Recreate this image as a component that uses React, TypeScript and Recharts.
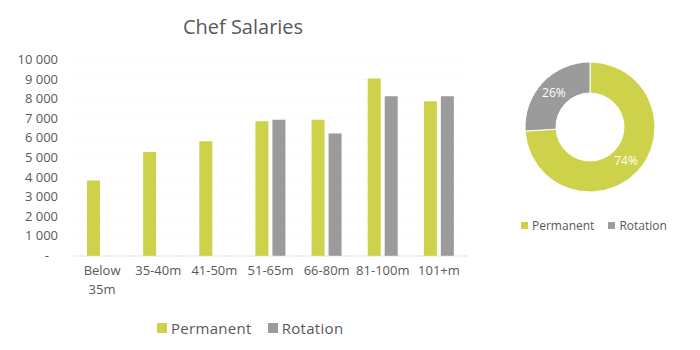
import React from 'react';
import { BarChart, Bar, XAxis, YAxis, CartesianGrid, PieChart, Pie, Cell } from 'recharts';

const categories = ['Below 35m', '35-40m', '41-50m', '51-65m', '66-80m', '81-100m', '101+m'];
const permanent = [3850, 5300, 5850, 6880, 6950, 9050, 7900];
const rotation: (number | null)[] = [null, null, null, 6950, 6250, 8150, 8150];
const yTicks = [0, 1000, 2000, 3000, 4000, 5000, 6000, 7000, 8000, 9000, 10000];

const shareNames = ['Permanent', 'Rotation'];
const shareValues = [74, 26];

const GREEN = '#CDD24A';
const GRAY = '#9B9B9B';
const TEXT = '#595959';
const FONT = '"Open Sans", "Noto Sans", sans-serif';

const barData = categories.map((name, i) => ({ name, permanent: permanent[i], rotation: rotation[i] }));
const pieData = shareNames.map((name, i) => ({ name, value: shareValues[i] }));

const fmt = (v: number) => (v === 0 ? '-' : String(v).replace(/\B(?=(\d{3})+(?!\d))/g, ' '));

const YTick = ({ x, y, payload }: any) => (
  <text x={payload.value === 0 ? x - 9 : x} y={y} dy={4} textAnchor="end" fill={TEXT} fontSize={13} fontFamily={FONT}>
    {fmt(payload.value)}
  </text>
);

const XTick = ({ x, y, payload }: any) => {
  const lines = String(payload.value).split(' ');
  return (
    <text x={x} y={y} textAnchor="middle" fill={TEXT} fontSize={13} fontFamily={FONT}>
      {lines.map((l, i) => (
        <tspan key={i} x={x} dy={i === 0 ? 11 : 19}>{l}</tspan>
      ))}
    </text>
  );
};

const RAD = Math.PI / 180;
const pieLabel = ({ cx, cy, midAngle, innerRadius, outerRadius, value }: any) => {
  const r = (innerRadius + outerRadius) / 2;
  const x = cx + r * Math.cos(-midAngle * RAD);
  const y = cy + r * Math.sin(-midAngle * RAD);
  return (
    <text x={x} y={y} dy={4} textAnchor="middle" fill="#fff" fontSize={12} fontFamily={FONT}>
      {value}%
    </text>
  );
};

const LegendItem = ({ color, label, size, gap }: { color: string; label: string; size: number; gap: number }) => (
  <span style={{ display: 'inline-flex', alignItems: 'center', marginRight: gap }}>
    <span style={{ width: size, height: size, background: color, display: 'inline-block', marginRight: 4 }} />
    {label}
  </span>
);

export default function App() {
  return (
    <div style={{ position: 'absolute', left: 0, top: 0, width: 700, height: 350, background: '#fff', fontFamily: FONT, color: TEXT }}>
      <div style={{ position: 'absolute', left: 0, width: 486, top: 13, textAlign: 'center', fontSize: 20 }}>
        Chef Salaries
      </div>

      <div style={{ position: 'absolute', left: 0, top: 0 }}>
        <BarChart width={480} height={350} data={barData} margin={{ top: 60, right: 13, left: 0, bottom: 50 }} barSize={13} barGap={4}>
          <CartesianGrid vertical={false} stroke="#efefef" strokeDasharray="1 3" />
          <XAxis dataKey="name" height={44} tick={<XTick />} tickLine={false} axisLine={{ stroke: '#d9d9d9', strokeDasharray: '2 1' }} interval={0} />
          <YAxis width={74} domain={[0, 10000]} ticks={yTicks} interval={0} tick={<YTick />} tickLine={false} axisLine={false} tickMargin={10} />
          <Bar dataKey="permanent" fill={GREEN} isAnimationActive={false} />
          <Bar dataKey="rotation" fill={GRAY} isAnimationActive={false} />
        </BarChart>
      </div>

      <div style={{ position: 'absolute', left: 157, top: 317, fontSize: 15, letterSpacing: 0.3, whiteSpace: 'nowrap' }}>
        <LegendItem color={GREEN} label="Permanent" size={10} gap={16} />
        <LegendItem color={GRAY} label="Rotation" size={10} gap={0} />
      </div>

      <div style={{ position: 'absolute', left: 500, top: 40 }}>
        <PieChart width={200} height={180}>
          <Pie
            data={pieData}
            dataKey="value"
            cx={85}
            cy={82}
            innerRadius={34}
            outerRadius={65}
            startAngle={90}
            endAngle={-270}
            stroke="#fff"
            strokeWidth={1}
            label={pieLabel}
            labelLine={false}
            isAnimationActive={false}
          >
            {pieData.map((d, i) => (
              <Cell key={d.name} fill={i === 0 ? GREEN : GRAY} />
            ))}
          </Pie>
        </PieChart>
      </div>

      <div style={{ position: 'absolute', left: 521, top: 216, fontSize: 12, whiteSpace: 'nowrap' }}>
        <LegendItem color={GREEN} label="Permanent" size={7} gap={14} />
        <LegendItem color={GRAY} label="Rotation" size={7} gap={0} />
      </div>
    </div>
  );
}
